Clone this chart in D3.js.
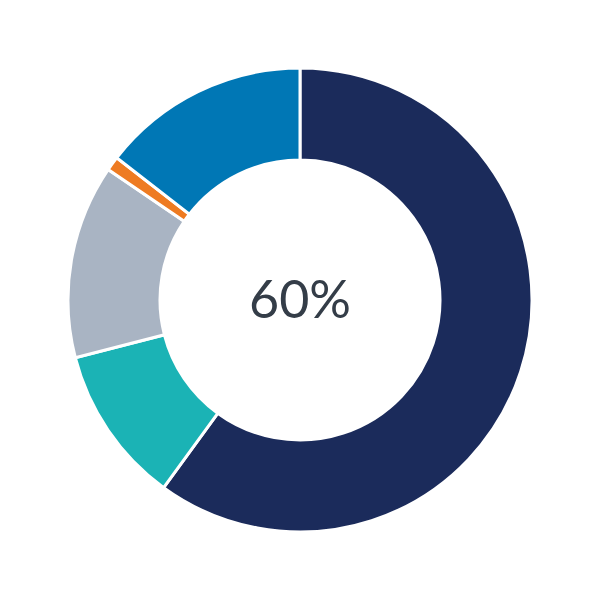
<!DOCTYPE html>
<html>
<head>
<meta charset="utf-8">
<script src="https://cdn.jsdelivr.net/npm/d3@7"></script>
<style>
  body { margin: 0; background: #fff; }
</style>
</head>
<body>
<svg id="chart" width="600" height="600"></svg>
<script>
// slice data, clockwise from 12 o'clock
const labels = ["A", "B", "C", "D", "E"];
const values = [60, 11, 13.5, 1, 14.5];
const colors = ["#1b2b5b", "#1bb3b5", "#a9b4c3", "#ee7b22", "#0077b5"];
const centerText = "60%";

const svg = d3.select("#chart");
const cx = 300, cy = 300;
const outerR = 232, innerR = 140;

const g = svg.append("g").attr("transform", `translate(${cx},${cy})`);

const pie = d3.pie().sort(null).value(d => d.value);
const arc = d3.arc().innerRadius(innerR).outerRadius(outerR);

const data = labels.map((l, i) => ({ label: l, value: values[i], color: colors[i] }));

g.selectAll("path")
  .data(pie(data))
  .join("path")
  .attr("d", arc)
  .attr("fill", d => d.data.color)
  .attr("stroke", "#fff")
  .attr("stroke-width", 3)
  .attr("stroke-linejoin", "miter");

g.append("text")
  .attr("text-anchor", "middle")
  .attr("dy", "0.35em")
  .attr("font-family", "Lato, 'Open Sans', sans-serif")
  .attr("font-weight", 400)
  .attr("font-size", 52)
  .attr("fill", "#343d48")
  .text(centerText);
</script>
</body>
</html>
